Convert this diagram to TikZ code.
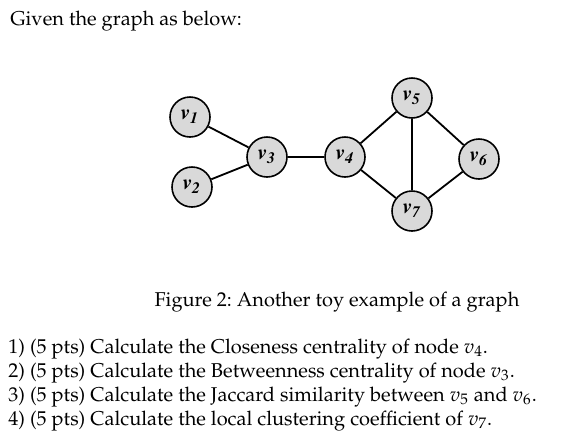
\documentclass[tikz,border=0pt]{standalone}
\usepackage[T1]{fontenc}
\usepackage{mathpazo}
\usetikzlibrary{positioning}
\newcommand{\vfont}{\fontfamily{ptm}\fontseries{b}\fontshape{it}\fontsize{10.5}{12}\selectfont}
\newcommand{\vlab}[1]{v\textsubscript{#1}}
\tikzset{
  vertex/.style={circle, draw=black, line width=0.8pt, fill=black!15, minimum size=20pt, inner sep=0pt, font=\vfont},
  edge/.style={line width=0.9pt},
  txt/.style={anchor=base west, inner sep=0pt, font=\fontsize{10}{12}\selectfont},
}
\begin{document}
\begin{tikzpicture}[x=0.5pt,y=-0.5pt]
\useasboundingbox (0,0) rectangle (572,436);

\node[txt] (intro) at (10,25) {Given the graph as below:};

% the graph
\node[vertex] (v1) at (190,117) {\vlab{1}};
\node[vertex] (v2) at (192,187) {\vlab{2}};
\node[vertex] (v3) at (267,157) {\vlab{3}};
\node[vertex] (v4) at (345,157) {\vlab{4}};
\node[vertex] (v5) at (412,98) {\vlab{5}};
\node[vertex] (v6) at (479,159) {\vlab{6}};
\node[vertex] (v7) at (412,211) {\vlab{7}};

\draw[edge] (v1) -- (v3);
\draw[edge] (v2) -- (v3);
\draw[edge] (v3) -- (v4);
\draw[edge] (v4) -- (v5);
\draw[edge] (v4) -- (v7);
\draw[edge] (v5) -- (v7);
\draw[edge] (v5) -- (v6);
\draw[edge] (v6) -- (v7);

\node[txt, anchor=base] (caption) at (337,306) {Figure 2:\ Another toy example of a graph};

% questions
\node[txt] (q1) at (8,353) {1) (5 pts) Calculate the Closeness centrality of node $v_4$.};
\node[txt] (q2) at (8,377) {2) (5 pts) Calculate the Betweenness centrality of node $v_3$.};
\node[txt] (q3) at (8,401) {3) (5 pts) Calculate the Jaccard similarity between $v_5$ and $v_6$.};
\node[txt] (q4) at (8,425) {4) (5 pts) Calculate the local clustering coefficient of $v_7$.};
\end{tikzpicture}
\end{document}
